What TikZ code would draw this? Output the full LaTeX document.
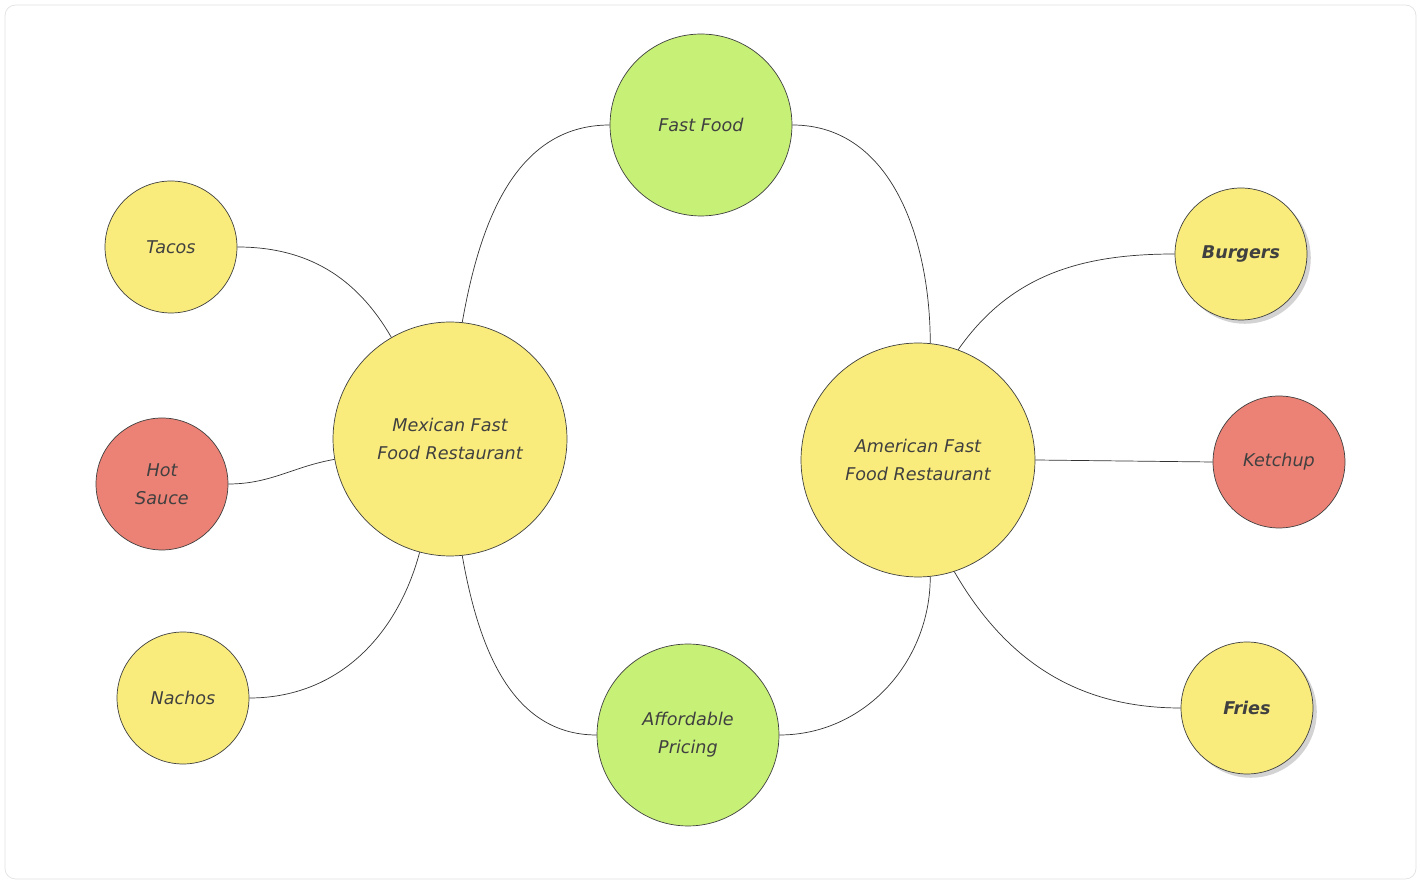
\documentclass[tikz,border=0pt]{standalone}
\usepackage{fontspec}
\setsansfont{DejaVu Sans}
\usetikzlibrary{positioning,shadows}
\definecolor{bubyellow}{RGB}{250,236,124}
\definecolor{bubred}{RGB}{236,129,117}
\definecolor{bubgreen}{RGB}{199,240,119}
\definecolor{frame}{RGB}{225,225,225}
\tikzset{
  bubble/.style={circle, draw=black!75, thin, align=center, inner sep=0pt,
    font=\sffamily\itshape\fontsize{10}{16}\selectfont, text=black!75},
  small/.style={bubble, minimum size=2.64cm},
  big/.style={bubble, minimum size=4.68cm},
  mid/.style={bubble, minimum size=3.64cm},
  link/.style={black!80, thin}
}
\begin{document}
\begin{tikzpicture}[x=0.02cm, y=-0.02cm]
\useasboundingbox (0,0) rectangle (1421,884);
\draw[frame, rounded corners=6pt] (5,5) rectangle (1416,879);
% hubs
\node[big, fill=bubyellow] (mex) at (450,439) {Mexican Fast\\Food Restaurant};
\node[big, fill=bubyellow] (ame) at (918,460) {American Fast\\Food Restaurant};
% shared
\node[mid, fill=bubgreen] (fast) at (701,125) {Fast Food};
\node[mid, fill=bubgreen] (price) at (688,735) {Affordable\\Pricing};
% mexican side
\node[small, fill=bubyellow] (tacos) at (171,247) {Tacos};
\node[small, fill=bubred] (hot) at (162,484) {Hot\\Sauce};
\node[small, fill=bubyellow] (nachos) at (183,698) {Nachos};
% american side
\node[small, fill=bubyellow, drop shadow={opacity=0.35}] (burg) at (1241,254) {\bfseries Burgers};
\node[small, fill=bubred] (ketch) at (1279,462) {Ketchup};
\node[small, fill=bubyellow, drop shadow={opacity=0.35}] (fries) at (1247,708) {\bfseries Fries};
% links
\draw[link] (tacos.east) to[out=0, in=120] (mex.120);
\draw[link] (hot.east) to[out=0, in=190] (mex.190);
\draw[link] (nachos.east) to[out=0, in=-105] (mex.-105);
\draw[link] (mex.84) to[out=80, in=180] (fast.west);
\draw[link] (mex.-84) to[out=-80, in=180] (price.west);
\draw[link] (fast.east) to[out=0, in=90] (ame.84);
\draw[link] (price.east) to[out=0, in=-90] (ame.-84);
\draw[link] (ame.70) to[out=55, in=180] (burg.west);
\draw[link] (ame.east) -- (ketch.west);
\draw[link] (ame.-72) to[out=-60, in=180] (fries.west);
\end{tikzpicture}
\end{document}
